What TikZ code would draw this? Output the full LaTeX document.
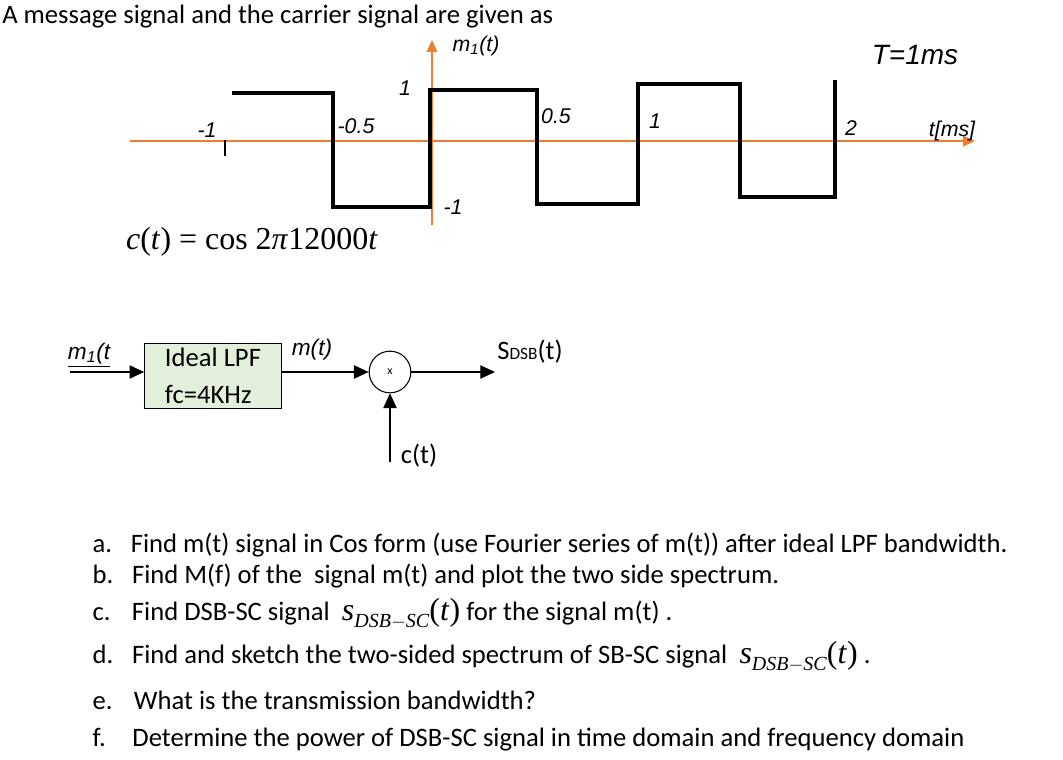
\documentclass[tikz,border=0pt]{standalone}
\usepackage{fontspec}
\setmainfont{Carlito}
\newfontfamily\arialfont{Liberation Sans}
\newfontfamily\timesfont{Liberation Serif}
\usepackage{tikz}
\usetikzlibrary{arrows.meta,positioning}
\definecolor{axisor}{HTML}{ED7D31}
\definecolor{lpfgreen}{HTML}{E2EFDA}
\newcommand{\sdsbsc}{{\timesfont\fontsize{24}{26}\selectfont\textit{s}\raisebox{-5pt}{\fontsize{15}{16}\selectfont\textit{DSB}$-$\textit{SC}}(\textit{t})}}
\begin{document}
\begin{tikzpicture}[x=0.0264cm, y=-0.0264cm, font=\fontsize{20}{24}\selectfont,
        axis/.style={draw=axisor, line width=1pt, -{Triangle[length=9pt,width=8pt]}},
        wave/.style={draw, line width=2.3pt},
        lbl/.style={font=\arialfont\itshape\fontsize{16}{19}\selectfont},
        block/.style={rectangle, draw, line width=1pt, fill=lpfgreen, minimum width=3.6cm, minimum height=1.64cm, align=left},
        line/.style={draw, line width=0.8pt, -{Triangle[length=11pt,width=10pt]}},
        item/.style={anchor=west, font=\fontsize{20}{24}\selectfont}]
    \useasboundingbox (0,0) rectangle (1063,760);
    % heading and waveform
    \node[anchor=west, inner sep=0pt] (head) at (2,17) {A message signal and the carrier signal are given as};
    \coordinate (tstart) at (130,141);
    \coordinate (tend) at (975,141);
    \coordinate (ybot) at (432,225);
    \coordinate (ytop) at (432,40);
    \draw[axis] (tstart) -- (tend);
    \draw[axis] (ybot) -- (ytop);
    \draw[line width=0.8pt] (225,140) -- (225,156);
    \draw[wave] (232,93) -- (333,93) -- (333,207) -- (430,207) -- (430,90) -- (537,90) -- (537,204)
        -- (638,204) -- (638,84) -- (740,84) -- (740,197) -- (835,197) -- (835,80);
    \node[lbl] (lm1) at (207,130) {-1};
    \node[lbl] (lm05) at (356,126) {-0.5};
    \node[lbl] (lp1) at (405,88) {1};
    \node[lbl] (lmin) at (453,207) {-1};
    \node[lbl] (lp05) at (556,116) {0.5};
    \node[lbl] (lt1) at (655,121) {1};
    \node[lbl] (lt2) at (851,128) {2};
    \node[lbl] (lms) at (952,131) {t[ms]};
    \node[lbl] (lyax) at (476,46) {m\textsubscript{1}(t)};
    \node[lbl, font=\arialfont\itshape\fontsize{21}{24}\selectfont] (period) at (915,55) {T=1ms};
    \node[font=\timesfont\fontsize{24}{26}\selectfont] (carrier) at (252,242) {\textit{c}(\textit{t}) = cos 2\textit{π}12000\textit{t}};
    % block diagram
    \node[block] (lpf) at (213,376) {Ideal LPF\\[4pt]fc=4KHz};
    \node[circle, draw, line width=0.8pt, minimum size=1.1cm, inner sep=0pt, font=\small] (mix) at (390,372) {x};
    \coordinate (in) at (70,372);
    \coordinate (out) at (495,372);
    \coordinate (cin) at (390,462);
    \path[line] (in) -- (lpf.west |- in);
    \path[line] (lpf.east |- mix) -- (mix);
    \path[line] (mix) -- (out);
    \path[line] (cin) -- (mix);
    \node[lbl, font=\arialfont\itshape\fontsize{17}{19}\selectfont] (min) at (89,355) {\underline{m\textsubscript{1}(t}};
    \node[lbl, font=\arialfont\itshape\fontsize{17}{19}\selectfont] (mt) at (312,350) {m(t)};
    \node (sdsb) at (530,352) {S{\fontsize{13}{14}\selectfont DSB}(t)};
    \node (ct) at (419,456) {c(t)};
    % questions
    \node[item] (qa) at (88,545) {a.\hspace{14pt}Find m(t) signal in Cos form (use Fourier series of m(t)) after ideal LPF bandwidth.};
    \node[item] (qb) at (88,576) {b.\hspace{14pt}Find M(f) of the\ \ signal m(t) and plot the two side spectrum.};
    \node[item] (qc) at (88,614) {c.\hspace{16pt}Find DSB-SC signal \ \sdsbsc\ for the signal m(t) .};
    \node[item] (qd) at (88,657) {d.\hspace{14pt}Find and sketch the two-sided spectrum of SB-SC signal \ \sdsbsc\ .};
    \node[item] (qe) at (88,700) {e.\hspace{16pt}What is the transmission bandwidth?};
    \node[item] (qf) at (88,740) {f.\hspace{20pt}Determine the power of DSB-SC signal in time domain and frequency domain};
\end{tikzpicture}
\end{document}
